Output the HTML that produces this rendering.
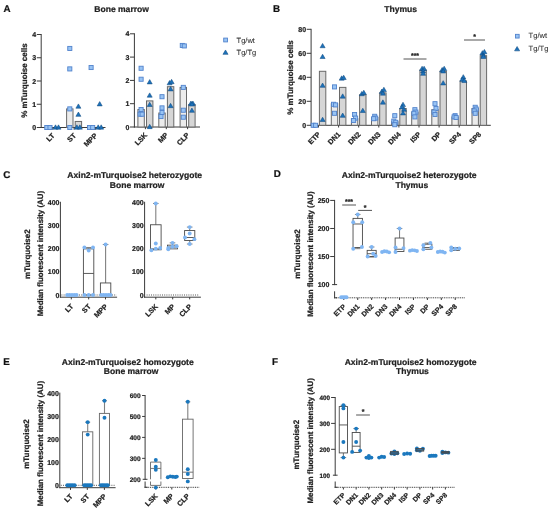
<!DOCTYPE html>
<html><head><meta charset="utf-8"><style>
html,body{margin:0;padding:0;background:#fff;width:550px;height:512px;overflow:hidden}
svg{display:block;filter:blur(0.3px)}
text{font-family:"Liberation Sans",sans-serif;text-rendering:geometricPrecision}
</style></head><body>
<svg width="550" height="512" viewBox="0 0 550 512" font-family="Liberation Sans, sans-serif">
<rect width="550" height="512" fill="#ffffff"/>
<text x="3.50" y="11.60" font-size="9.8" text-anchor="start" font-weight="bold" fill="#111" stroke="#111" stroke-width="0.22">A</text>
<text x="121.60" y="12.00" font-size="8.55" text-anchor="middle" font-weight="bold" fill="#222" stroke="#222" stroke-width="0.22">Bone marrow</text>
<text x="26.60" y="80.60" font-size="8.0" text-anchor="middle" font-weight="bold" fill="#222" transform="rotate(-90 26.60 80.60)" stroke="#222" stroke-width="0.22">% mTurquoise cells</text>
<line x1="41.20" y1="34.00" x2="41.20" y2="128.00" stroke="#3a3a3a" stroke-width="1"/>
<line x1="36.80" y1="127.50" x2="41.20" y2="127.50" stroke="#3a3a3a" stroke-width="1"/>
<text x="36.20" y="130.00" font-size="7.0" text-anchor="end" font-weight="bold" fill="#222" stroke="#222" stroke-width="0.22">0</text>
<line x1="36.80" y1="104.25" x2="41.20" y2="104.25" stroke="#3a3a3a" stroke-width="1"/>
<text x="36.20" y="106.75" font-size="7.0" text-anchor="end" font-weight="bold" fill="#222" stroke="#222" stroke-width="0.22">1</text>
<line x1="36.80" y1="81.00" x2="41.20" y2="81.00" stroke="#3a3a3a" stroke-width="1"/>
<text x="36.20" y="83.50" font-size="7.0" text-anchor="end" font-weight="bold" fill="#222" stroke="#222" stroke-width="0.22">2</text>
<line x1="36.80" y1="57.75" x2="41.20" y2="57.75" stroke="#3a3a3a" stroke-width="1"/>
<text x="36.20" y="60.25" font-size="7.0" text-anchor="end" font-weight="bold" fill="#222" stroke="#222" stroke-width="0.22">3</text>
<line x1="36.80" y1="34.50" x2="41.20" y2="34.50" stroke="#3a3a3a" stroke-width="1"/>
<text x="36.20" y="37.00" font-size="7.0" text-anchor="end" font-weight="bold" fill="#222" stroke="#222" stroke-width="0.22">4</text>
<line x1="40.70" y1="127.50" x2="105.50" y2="127.50" stroke="#3a3a3a" stroke-width="1"/>
<line x1="52.70" y1="127.50" x2="52.70" y2="129.70" stroke="#3a3a3a" stroke-width="1"/>
<line x1="74.10" y1="127.50" x2="74.10" y2="129.70" stroke="#3a3a3a" stroke-width="1"/>
<line x1="95.40" y1="127.50" x2="95.40" y2="129.70" stroke="#3a3a3a" stroke-width="1"/>
<rect x="44.75" y="125.45" width="4.10" height="4.10" fill="#98c4f4" stroke="#5283cc" stroke-width="0.9"/>
<rect x="47.95" y="125.45" width="4.10" height="4.10" fill="#98c4f4" stroke="#5283cc" stroke-width="0.9"/>
<path d="M55.50 124.83 L58.00 129.13 L53.00 129.13Z" fill="#1c72bb" stroke="#134b80" stroke-width="0.55"/>
<path d="M58.50 124.83 L61.00 129.13 L56.00 129.13Z" fill="#1c72bb" stroke="#134b80" stroke-width="0.55"/>
<rect x="66.60" y="108.90" width="6.40" height="18.60" fill="#ececec" stroke="#696969" stroke-width="1.0"/>
<rect x="75.20" y="121.45" width="6.40" height="6.04" fill="#d6d6d6" stroke="#696969" stroke-width="1.0"/>
<rect x="67.75" y="46.40" width="4.10" height="4.10" fill="#98c4f4" stroke="#5283cc" stroke-width="0.9"/>
<rect x="67.75" y="66.86" width="4.10" height="4.10" fill="#98c4f4" stroke="#5283cc" stroke-width="0.9"/>
<rect x="67.75" y="106.85" width="4.10" height="4.10" fill="#98c4f4" stroke="#5283cc" stroke-width="0.9"/>
<rect x="67.75" y="125.45" width="4.10" height="4.10" fill="#98c4f4" stroke="#5283cc" stroke-width="0.9"/>
<path d="M78.40 103.91 L80.90 108.21 L75.90 108.21Z" fill="#1c72bb" stroke="#134b80" stroke-width="0.55"/>
<path d="M78.40 112.05 L80.90 116.35 L75.90 116.35Z" fill="#1c72bb" stroke="#134b80" stroke-width="0.55"/>
<path d="M76.90 124.83 L79.40 129.13 L74.40 129.13Z" fill="#1c72bb" stroke="#134b80" stroke-width="0.55"/>
<path d="M79.90 124.83 L82.40 129.13 L77.40 129.13Z" fill="#1c72bb" stroke="#134b80" stroke-width="0.55"/>
<rect x="89.05" y="65.47" width="4.10" height="4.10" fill="#98c4f4" stroke="#5283cc" stroke-width="0.9"/>
<rect x="87.45" y="125.45" width="4.10" height="4.10" fill="#98c4f4" stroke="#5283cc" stroke-width="0.9"/>
<rect x="90.65" y="125.45" width="4.10" height="4.10" fill="#98c4f4" stroke="#5283cc" stroke-width="0.9"/>
<path d="M99.70 101.58 L102.20 105.88 L97.20 105.88Z" fill="#1c72bb" stroke="#134b80" stroke-width="0.55"/>
<path d="M98.20 124.83 L100.70 129.13 L95.70 129.13Z" fill="#1c72bb" stroke="#134b80" stroke-width="0.55"/>
<path d="M101.20 124.83 L103.70 129.13 L98.70 129.13Z" fill="#1c72bb" stroke="#134b80" stroke-width="0.55"/>
<text x="55.10" y="136.10" font-size="7.2" text-anchor="end" font-weight="bold" fill="#222" transform="rotate(-45 55.10 136.10)" stroke="#222" stroke-width="0.22">LT</text>
<text x="76.50" y="136.10" font-size="7.2" text-anchor="end" font-weight="bold" fill="#222" transform="rotate(-45 76.50 136.10)" stroke="#222" stroke-width="0.22">ST</text>
<text x="97.80" y="136.10" font-size="7.2" text-anchor="end" font-weight="bold" fill="#222" transform="rotate(-45 97.80 136.10)" stroke="#222" stroke-width="0.22">MPP</text>
<line x1="134.40" y1="33.30" x2="134.40" y2="127.50" stroke="#3a3a3a" stroke-width="1"/>
<line x1="130.00" y1="127.00" x2="134.40" y2="127.00" stroke="#3a3a3a" stroke-width="1"/>
<text x="129.40" y="129.50" font-size="7.0" text-anchor="end" font-weight="bold" fill="#222" stroke="#222" stroke-width="0.22">0</text>
<line x1="130.00" y1="103.70" x2="134.40" y2="103.70" stroke="#3a3a3a" stroke-width="1"/>
<text x="129.40" y="106.20" font-size="7.0" text-anchor="end" font-weight="bold" fill="#222" stroke="#222" stroke-width="0.22">1</text>
<line x1="130.00" y1="80.40" x2="134.40" y2="80.40" stroke="#3a3a3a" stroke-width="1"/>
<text x="129.40" y="82.90" font-size="7.0" text-anchor="end" font-weight="bold" fill="#222" stroke="#222" stroke-width="0.22">2</text>
<line x1="130.00" y1="57.10" x2="134.40" y2="57.10" stroke="#3a3a3a" stroke-width="1"/>
<text x="129.40" y="59.60" font-size="7.0" text-anchor="end" font-weight="bold" fill="#222" stroke="#222" stroke-width="0.22">3</text>
<line x1="130.00" y1="33.80" x2="134.40" y2="33.80" stroke="#3a3a3a" stroke-width="1"/>
<text x="129.40" y="36.30" font-size="7.0" text-anchor="end" font-weight="bold" fill="#222" stroke="#222" stroke-width="0.22">4</text>
<line x1="133.90" y1="127.00" x2="200.00" y2="127.00" stroke="#3a3a3a" stroke-width="1"/>
<line x1="145.40" y1="127.00" x2="145.40" y2="129.20" stroke="#3a3a3a" stroke-width="1"/>
<line x1="166.30" y1="127.00" x2="166.30" y2="129.20" stroke="#3a3a3a" stroke-width="1"/>
<line x1="187.60" y1="127.00" x2="187.60" y2="129.20" stroke="#3a3a3a" stroke-width="1"/>
<rect x="137.90" y="109.53" width="6.40" height="17.48" fill="#ececec" stroke="#696969" stroke-width="1.0"/>
<rect x="146.50" y="100.90" width="6.40" height="26.10" fill="#d6d6d6" stroke="#696969" stroke-width="1.0"/>
<rect x="139.05" y="66.23" width="4.10" height="4.10" fill="#98c4f4" stroke="#5283cc" stroke-width="0.9"/>
<rect x="139.05" y="77.19" width="4.10" height="4.10" fill="#98c4f4" stroke="#5283cc" stroke-width="0.9"/>
<rect x="139.05" y="107.48" width="4.10" height="4.10" fill="#98c4f4" stroke="#5283cc" stroke-width="0.9"/>
<rect x="138.05" y="112.14" width="4.10" height="4.10" fill="#98c4f4" stroke="#5283cc" stroke-width="0.9"/>
<rect x="140.05" y="112.14" width="4.10" height="4.10" fill="#98c4f4" stroke="#5283cc" stroke-width="0.9"/>
<path d="M149.70 79.60 L152.20 83.90 L147.20 83.90Z" fill="#1c72bb" stroke="#134b80" stroke-width="0.55"/>
<path d="M149.70 92.88 L152.20 97.18 L147.20 97.18Z" fill="#1c72bb" stroke="#134b80" stroke-width="0.55"/>
<path d="M149.70 102.20 L152.20 106.50 L147.20 106.50Z" fill="#1c72bb" stroke="#134b80" stroke-width="0.55"/>
<path d="M149.70 124.33 L152.20 128.63 L147.20 128.63Z" fill="#1c72bb" stroke="#134b80" stroke-width="0.55"/>
<rect x="158.80" y="113.02" width="6.40" height="13.98" fill="#ececec" stroke="#696969" stroke-width="1.0"/>
<rect x="167.40" y="86.69" width="6.40" height="40.31" fill="#d6d6d6" stroke="#696969" stroke-width="1.0"/>
<rect x="159.95" y="94.66" width="4.10" height="4.10" fill="#98c4f4" stroke="#5283cc" stroke-width="0.9"/>
<rect x="159.95" y="105.84" width="4.10" height="4.10" fill="#98c4f4" stroke="#5283cc" stroke-width="0.9"/>
<rect x="159.95" y="110.50" width="4.10" height="4.10" fill="#98c4f4" stroke="#5283cc" stroke-width="0.9"/>
<rect x="158.95" y="114.47" width="4.10" height="4.10" fill="#98c4f4" stroke="#5283cc" stroke-width="0.9"/>
<path d="M169.60 80.53 L172.10 84.83 L167.10 84.83Z" fill="#1c72bb" stroke="#134b80" stroke-width="0.55"/>
<path d="M171.60 79.37 L174.10 83.67 L169.10 83.67Z" fill="#1c72bb" stroke="#134b80" stroke-width="0.55"/>
<path d="M170.60 86.59 L173.10 90.89 L168.10 90.89Z" fill="#1c72bb" stroke="#134b80" stroke-width="0.55"/>
<path d="M170.60 103.36 L173.10 107.66 L168.10 107.66Z" fill="#1c72bb" stroke="#134b80" stroke-width="0.55"/>
<rect x="180.10" y="87.39" width="6.40" height="39.61" fill="#ececec" stroke="#696969" stroke-width="1.0"/>
<rect x="188.70" y="104.63" width="6.40" height="22.37" fill="#d6d6d6" stroke="#696969" stroke-width="1.0"/>
<rect x="180.25" y="43.40" width="4.10" height="4.10" fill="#98c4f4" stroke="#5283cc" stroke-width="0.9"/>
<rect x="182.25" y="43.87" width="4.10" height="4.10" fill="#98c4f4" stroke="#5283cc" stroke-width="0.9"/>
<rect x="181.25" y="85.34" width="4.10" height="4.10" fill="#98c4f4" stroke="#5283cc" stroke-width="0.9"/>
<rect x="181.25" y="108.17" width="4.10" height="4.10" fill="#98c4f4" stroke="#5283cc" stroke-width="0.9"/>
<rect x="181.25" y="115.16" width="4.10" height="4.10" fill="#98c4f4" stroke="#5283cc" stroke-width="0.9"/>
<path d="M190.90 101.03 L193.40 105.33 L188.40 105.33Z" fill="#1c72bb" stroke="#134b80" stroke-width="0.55"/>
<path d="M192.90 101.03 L195.40 105.33 L190.40 105.33Z" fill="#1c72bb" stroke="#134b80" stroke-width="0.55"/>
<path d="M191.90 101.73 L194.40 106.03 L189.40 106.03Z" fill="#1c72bb" stroke="#134b80" stroke-width="0.55"/>
<path d="M191.90 108.02 L194.40 112.32 L189.40 112.32Z" fill="#1c72bb" stroke="#134b80" stroke-width="0.55"/>
<text x="147.80" y="135.60" font-size="7.2" text-anchor="end" font-weight="bold" fill="#222" transform="rotate(-45 147.80 135.60)" stroke="#222" stroke-width="0.22">LSK</text>
<text x="168.70" y="135.60" font-size="7.2" text-anchor="end" font-weight="bold" fill="#222" transform="rotate(-45 168.70 135.60)" stroke="#222" stroke-width="0.22">MP</text>
<text x="190.00" y="135.60" font-size="7.2" text-anchor="end" font-weight="bold" fill="#222" transform="rotate(-45 190.00 135.60)" stroke="#222" stroke-width="0.22">CLP</text>
<rect x="223.70" y="38.10" width="3.80" height="3.80" fill="#98c4f4" stroke="#5283cc" stroke-width="0.9"/>
<path d="M225.50 49.98 L228.05 54.37 L222.95 54.37Z" fill="#1c72bb" stroke="#134b80" stroke-width="0.55"/>
<text x="236.60" y="42.60" font-size="7.5" text-anchor="start" font-weight="normal" fill="#333" stroke="#333" stroke-width="0.08">Tg/wt</text>
<text x="236.60" y="55.00" font-size="7.5" text-anchor="start" font-weight="normal" fill="#333" stroke="#333" stroke-width="0.08">Tg/Tg</text>
<text x="272.90" y="11.60" font-size="9.8" text-anchor="start" font-weight="bold" fill="#111" stroke="#111" stroke-width="0.22">B</text>
<text x="400.70" y="12.00" font-size="8.55" text-anchor="middle" font-weight="bold" fill="#222" stroke="#222" stroke-width="0.22">Thymus</text>
<text x="292.70" y="77.50" font-size="8.0" text-anchor="middle" font-weight="bold" fill="#222" transform="rotate(-90 292.70 77.50)" stroke="#222" stroke-width="0.22">% mTurquoise cells</text>
<line x1="311.10" y1="28.80" x2="311.10" y2="125.80" stroke="#3a3a3a" stroke-width="1"/>
<line x1="306.70" y1="125.30" x2="311.10" y2="125.30" stroke="#3a3a3a" stroke-width="1"/>
<text x="306.10" y="127.80" font-size="7.0" text-anchor="end" font-weight="bold" fill="#222" stroke="#222" stroke-width="0.22">0</text>
<line x1="306.70" y1="101.30" x2="311.10" y2="101.30" stroke="#3a3a3a" stroke-width="1"/>
<text x="306.10" y="103.80" font-size="7.0" text-anchor="end" font-weight="bold" fill="#222" stroke="#222" stroke-width="0.22">20</text>
<line x1="306.70" y1="77.30" x2="311.10" y2="77.30" stroke="#3a3a3a" stroke-width="1"/>
<text x="306.10" y="79.80" font-size="7.0" text-anchor="end" font-weight="bold" fill="#222" stroke="#222" stroke-width="0.22">40</text>
<line x1="306.70" y1="53.30" x2="311.10" y2="53.30" stroke="#3a3a3a" stroke-width="1"/>
<text x="306.10" y="55.80" font-size="7.0" text-anchor="end" font-weight="bold" fill="#222" stroke="#222" stroke-width="0.22">60</text>
<line x1="306.70" y1="29.30" x2="311.10" y2="29.30" stroke="#3a3a3a" stroke-width="1"/>
<text x="306.10" y="31.80" font-size="7.0" text-anchor="end" font-weight="bold" fill="#222" stroke="#222" stroke-width="0.22">80</text>
<line x1="310.60" y1="125.30" x2="490.80" y2="125.30" stroke="#3a3a3a" stroke-width="1"/>
<line x1="318.50" y1="125.30" x2="318.50" y2="127.50" stroke="#3a3a3a" stroke-width="1"/>
<line x1="338.60" y1="125.30" x2="338.60" y2="127.50" stroke="#3a3a3a" stroke-width="1"/>
<line x1="358.70" y1="125.30" x2="358.70" y2="127.50" stroke="#3a3a3a" stroke-width="1"/>
<line x1="378.80" y1="125.30" x2="378.80" y2="127.50" stroke="#3a3a3a" stroke-width="1"/>
<line x1="398.90" y1="125.30" x2="398.90" y2="127.50" stroke="#3a3a3a" stroke-width="1"/>
<line x1="419.00" y1="125.30" x2="419.00" y2="127.50" stroke="#3a3a3a" stroke-width="1"/>
<line x1="439.10" y1="125.30" x2="439.10" y2="127.50" stroke="#3a3a3a" stroke-width="1"/>
<line x1="459.20" y1="125.30" x2="459.20" y2="127.50" stroke="#3a3a3a" stroke-width="1"/>
<line x1="479.30" y1="125.30" x2="479.30" y2="127.50" stroke="#3a3a3a" stroke-width="1"/>
<rect x="319.40" y="71.30" width="6.40" height="54.00" fill="#d6d6d6" stroke="#696969" stroke-width="1.0"/>
<rect x="311.15" y="123.25" width="4.10" height="4.10" fill="#98c4f4" stroke="#5283cc" stroke-width="0.9"/>
<rect x="313.55" y="123.25" width="4.10" height="4.10" fill="#98c4f4" stroke="#5283cc" stroke-width="0.9"/>
<path d="M322.60 43.43 L325.10 47.73 L320.10 47.73Z" fill="#1c72bb" stroke="#134b80" stroke-width="0.55"/>
<path d="M322.60 54.23 L325.10 58.53 L320.10 58.53Z" fill="#1c72bb" stroke="#134b80" stroke-width="0.55"/>
<path d="M322.60 83.03 L325.10 87.33 L320.10 87.33Z" fill="#1c72bb" stroke="#134b80" stroke-width="0.55"/>
<path d="M322.60 117.23 L325.10 121.53 L320.10 121.53Z" fill="#1c72bb" stroke="#134b80" stroke-width="0.55"/>
<rect x="331.30" y="103.70" width="6.40" height="21.60" fill="#ececec" stroke="#696969" stroke-width="1.0"/>
<rect x="339.50" y="87.38" width="6.40" height="37.92" fill="#d6d6d6" stroke="#696969" stroke-width="1.0"/>
<rect x="332.45" y="84.85" width="4.10" height="4.10" fill="#98c4f4" stroke="#5283cc" stroke-width="0.9"/>
<rect x="331.45" y="102.25" width="4.10" height="4.10" fill="#98c4f4" stroke="#5283cc" stroke-width="0.9"/>
<rect x="333.45" y="102.85" width="4.10" height="4.10" fill="#98c4f4" stroke="#5283cc" stroke-width="0.9"/>
<rect x="332.45" y="111.25" width="4.10" height="4.10" fill="#98c4f4" stroke="#5283cc" stroke-width="0.9"/>
<path d="M341.70 75.83 L344.20 80.13 L339.20 80.13Z" fill="#1c72bb" stroke="#134b80" stroke-width="0.55"/>
<path d="M343.70 75.23 L346.20 79.53 L341.20 79.53Z" fill="#1c72bb" stroke="#134b80" stroke-width="0.55"/>
<path d="M342.70 93.83 L345.20 98.13 L340.20 98.13Z" fill="#1c72bb" stroke="#134b80" stroke-width="0.55"/>
<path d="M342.70 113.03 L345.20 117.33 L340.20 117.33Z" fill="#1c72bb" stroke="#134b80" stroke-width="0.55"/>
<rect x="351.40" y="118.70" width="6.40" height="6.60" fill="#ececec" stroke="#696969" stroke-width="1.0"/>
<rect x="359.60" y="94.70" width="6.40" height="30.60" fill="#d6d6d6" stroke="#696969" stroke-width="1.0"/>
<rect x="352.55" y="112.45" width="4.10" height="4.10" fill="#98c4f4" stroke="#5283cc" stroke-width="0.9"/>
<rect x="353.55" y="116.05" width="4.10" height="4.10" fill="#98c4f4" stroke="#5283cc" stroke-width="0.9"/>
<rect x="351.55" y="118.45" width="4.10" height="4.10" fill="#98c4f4" stroke="#5283cc" stroke-width="0.9"/>
<path d="M361.80 91.43 L364.30 95.73 L359.30 95.73Z" fill="#1c72bb" stroke="#134b80" stroke-width="0.55"/>
<path d="M363.80 90.23 L366.30 94.53 L361.30 94.53Z" fill="#1c72bb" stroke="#134b80" stroke-width="0.55"/>
<path d="M362.80 108.23 L365.30 112.53 L360.30 112.53Z" fill="#1c72bb" stroke="#134b80" stroke-width="0.55"/>
<rect x="371.50" y="117.50" width="6.40" height="7.80" fill="#ececec" stroke="#696969" stroke-width="1.0"/>
<rect x="379.70" y="92.90" width="6.40" height="32.40" fill="#d6d6d6" stroke="#696969" stroke-width="1.0"/>
<rect x="372.65" y="114.25" width="4.10" height="4.10" fill="#98c4f4" stroke="#5283cc" stroke-width="0.9"/>
<rect x="373.65" y="116.05" width="4.10" height="4.10" fill="#98c4f4" stroke="#5283cc" stroke-width="0.9"/>
<rect x="371.65" y="116.65" width="4.10" height="4.10" fill="#98c4f4" stroke="#5283cc" stroke-width="0.9"/>
<path d="M381.90 89.03 L384.40 93.33 L379.40 93.33Z" fill="#1c72bb" stroke="#134b80" stroke-width="0.55"/>
<path d="M383.90 87.23 L386.40 91.53 L381.40 91.53Z" fill="#1c72bb" stroke="#134b80" stroke-width="0.55"/>
<path d="M382.90 90.83 L385.40 95.13 L380.40 95.13Z" fill="#1c72bb" stroke="#134b80" stroke-width="0.55"/>
<path d="M382.90 99.83 L385.40 104.13 L380.40 104.13Z" fill="#1c72bb" stroke="#134b80" stroke-width="0.55"/>
<rect x="391.60" y="121.70" width="6.40" height="3.60" fill="#ececec" stroke="#696969" stroke-width="1.0"/>
<rect x="399.80" y="108.50" width="6.40" height="16.80" fill="#d6d6d6" stroke="#696969" stroke-width="1.0"/>
<rect x="392.75" y="113.65" width="4.10" height="4.10" fill="#98c4f4" stroke="#5283cc" stroke-width="0.9"/>
<rect x="391.75" y="119.05" width="4.10" height="4.10" fill="#98c4f4" stroke="#5283cc" stroke-width="0.9"/>
<rect x="393.75" y="120.25" width="4.10" height="4.10" fill="#98c4f4" stroke="#5283cc" stroke-width="0.9"/>
<rect x="392.75" y="122.65" width="4.10" height="4.10" fill="#98c4f4" stroke="#5283cc" stroke-width="0.9"/>
<path d="M403.00 102.23 L405.50 106.53 L400.50 106.53Z" fill="#1c72bb" stroke="#134b80" stroke-width="0.55"/>
<path d="M402.00 104.63 L404.50 108.93 L399.50 108.93Z" fill="#1c72bb" stroke="#134b80" stroke-width="0.55"/>
<path d="M404.00 107.03 L406.50 111.33 L401.50 111.33Z" fill="#1c72bb" stroke="#134b80" stroke-width="0.55"/>
<path d="M403.00 110.63 L405.50 114.93 L400.50 114.93Z" fill="#1c72bb" stroke="#134b80" stroke-width="0.55"/>
<rect x="411.70" y="112.10" width="6.40" height="13.20" fill="#ececec" stroke="#696969" stroke-width="1.0"/>
<rect x="419.90" y="70.10" width="6.40" height="55.20" fill="#d6d6d6" stroke="#696969" stroke-width="1.0"/>
<rect x="412.85" y="107.65" width="4.10" height="4.10" fill="#98c4f4" stroke="#5283cc" stroke-width="0.9"/>
<rect x="413.85" y="110.05" width="4.10" height="4.10" fill="#98c4f4" stroke="#5283cc" stroke-width="0.9"/>
<rect x="411.85" y="111.25" width="4.10" height="4.10" fill="#98c4f4" stroke="#5283cc" stroke-width="0.9"/>
<rect x="412.85" y="114.85" width="4.10" height="4.10" fill="#98c4f4" stroke="#5283cc" stroke-width="0.9"/>
<path d="M422.10 66.23 L424.60 70.53 L419.60 70.53Z" fill="#1c72bb" stroke="#134b80" stroke-width="0.55"/>
<path d="M424.10 66.23 L426.60 70.53 L421.60 70.53Z" fill="#1c72bb" stroke="#134b80" stroke-width="0.55"/>
<path d="M423.10 68.63 L425.60 72.93 L420.60 72.93Z" fill="#1c72bb" stroke="#134b80" stroke-width="0.55"/>
<path d="M423.10 71.03 L425.60 75.33 L420.60 75.33Z" fill="#1c72bb" stroke="#134b80" stroke-width="0.55"/>
<rect x="431.80" y="109.70" width="6.40" height="15.60" fill="#ececec" stroke="#696969" stroke-width="1.0"/>
<rect x="440.00" y="71.30" width="6.40" height="54.00" fill="#d6d6d6" stroke="#696969" stroke-width="1.0"/>
<rect x="432.95" y="101.65" width="4.10" height="4.10" fill="#98c4f4" stroke="#5283cc" stroke-width="0.9"/>
<rect x="433.95" y="106.45" width="4.10" height="4.10" fill="#98c4f4" stroke="#5283cc" stroke-width="0.9"/>
<rect x="431.95" y="110.05" width="4.10" height="4.10" fill="#98c4f4" stroke="#5283cc" stroke-width="0.9"/>
<rect x="432.95" y="112.45" width="4.10" height="4.10" fill="#98c4f4" stroke="#5283cc" stroke-width="0.9"/>
<path d="M442.20 67.43 L444.70 71.73 L439.70 71.73Z" fill="#1c72bb" stroke="#134b80" stroke-width="0.55"/>
<path d="M444.20 66.23 L446.70 70.53 L441.70 70.53Z" fill="#1c72bb" stroke="#134b80" stroke-width="0.55"/>
<path d="M443.20 68.63 L445.70 72.93 L440.70 72.93Z" fill="#1c72bb" stroke="#134b80" stroke-width="0.55"/>
<path d="M443.20 80.63 L445.70 84.93 L440.70 84.93Z" fill="#1c72bb" stroke="#134b80" stroke-width="0.55"/>
<rect x="451.90" y="116.90" width="6.40" height="8.40" fill="#ececec" stroke="#696969" stroke-width="1.0"/>
<rect x="460.10" y="80.90" width="6.40" height="44.40" fill="#d6d6d6" stroke="#696969" stroke-width="1.0"/>
<rect x="453.05" y="113.65" width="4.10" height="4.10" fill="#98c4f4" stroke="#5283cc" stroke-width="0.9"/>
<rect x="452.05" y="114.85" width="4.10" height="4.10" fill="#98c4f4" stroke="#5283cc" stroke-width="0.9"/>
<rect x="454.05" y="115.45" width="4.10" height="4.10" fill="#98c4f4" stroke="#5283cc" stroke-width="0.9"/>
<path d="M463.30 74.63 L465.80 78.93 L460.80 78.93Z" fill="#1c72bb" stroke="#134b80" stroke-width="0.55"/>
<path d="M462.30 77.03 L464.80 81.33 L459.80 81.33Z" fill="#1c72bb" stroke="#134b80" stroke-width="0.55"/>
<path d="M464.30 78.23 L466.80 82.53 L461.80 82.53Z" fill="#1c72bb" stroke="#134b80" stroke-width="0.55"/>
<rect x="472.00" y="108.50" width="6.40" height="16.80" fill="#ececec" stroke="#696969" stroke-width="1.0"/>
<rect x="480.20" y="55.70" width="6.40" height="69.60" fill="#d6d6d6" stroke="#696969" stroke-width="1.0"/>
<rect x="473.15" y="105.25" width="4.10" height="4.10" fill="#98c4f4" stroke="#5283cc" stroke-width="0.9"/>
<rect x="474.15" y="107.05" width="4.10" height="4.10" fill="#98c4f4" stroke="#5283cc" stroke-width="0.9"/>
<rect x="472.15" y="108.85" width="4.10" height="4.10" fill="#98c4f4" stroke="#5283cc" stroke-width="0.9"/>
<rect x="473.15" y="111.25" width="4.10" height="4.10" fill="#98c4f4" stroke="#5283cc" stroke-width="0.9"/>
<path d="M482.40 50.63 L484.90 54.93 L479.90 54.93Z" fill="#1c72bb" stroke="#134b80" stroke-width="0.55"/>
<path d="M484.40 49.43 L486.90 53.73 L481.90 53.73Z" fill="#1c72bb" stroke="#134b80" stroke-width="0.55"/>
<path d="M483.40 53.03 L485.90 57.33 L480.90 57.33Z" fill="#1c72bb" stroke="#134b80" stroke-width="0.55"/>
<path d="M483.40 54.23 L485.90 58.53 L480.90 58.53Z" fill="#1c72bb" stroke="#134b80" stroke-width="0.55"/>
<text x="320.90" y="134.80" font-size="7.2" text-anchor="end" font-weight="bold" fill="#222" transform="rotate(-45 320.90 134.80)" stroke="#222" stroke-width="0.22">ETP</text>
<text x="341.00" y="134.80" font-size="7.2" text-anchor="end" font-weight="bold" fill="#222" transform="rotate(-45 341.00 134.80)" stroke="#222" stroke-width="0.22">DN1</text>
<text x="361.10" y="134.80" font-size="7.2" text-anchor="end" font-weight="bold" fill="#222" transform="rotate(-45 361.10 134.80)" stroke="#222" stroke-width="0.22">DN2</text>
<text x="381.20" y="134.80" font-size="7.2" text-anchor="end" font-weight="bold" fill="#222" transform="rotate(-45 381.20 134.80)" stroke="#222" stroke-width="0.22">DN3</text>
<text x="401.30" y="134.80" font-size="7.2" text-anchor="end" font-weight="bold" fill="#222" transform="rotate(-45 401.30 134.80)" stroke="#222" stroke-width="0.22">DN4</text>
<text x="421.40" y="134.80" font-size="7.2" text-anchor="end" font-weight="bold" fill="#222" transform="rotate(-45 421.40 134.80)" stroke="#222" stroke-width="0.22">ISP</text>
<text x="441.50" y="134.80" font-size="7.2" text-anchor="end" font-weight="bold" fill="#222" transform="rotate(-45 441.50 134.80)" stroke="#222" stroke-width="0.22">DP</text>
<text x="461.60" y="134.80" font-size="7.2" text-anchor="end" font-weight="bold" fill="#222" transform="rotate(-45 461.60 134.80)" stroke="#222" stroke-width="0.22">SP4</text>
<text x="481.70" y="134.80" font-size="7.2" text-anchor="end" font-weight="bold" fill="#222" transform="rotate(-45 481.70 134.80)" stroke="#222" stroke-width="0.22">SP8</text>
<line x1="403.50" y1="59.00" x2="426.50" y2="59.00" stroke="#555" stroke-width="1"/>
<text x="415.00" y="57.60" font-size="7" text-anchor="middle" font-weight="bold" fill="#222" stroke="#222" stroke-width="0.22">***</text>
<line x1="464.00" y1="40.00" x2="485.00" y2="40.00" stroke="#555" stroke-width="1"/>
<text x="474.50" y="38.60" font-size="7" text-anchor="middle" font-weight="bold" fill="#222" stroke="#222" stroke-width="0.22">*</text>
<rect x="515.45" y="34.35" width="3.70" height="3.70" fill="#98c4f4" stroke="#5283cc" stroke-width="0.9"/>
<path d="M517.10 46.48 L519.65 50.87 L514.55 50.87Z" fill="#1c72bb" stroke="#134b80" stroke-width="0.55"/>
<text x="528.60" y="38.20" font-size="7.6" text-anchor="start" font-weight="normal" fill="#333" stroke="#333" stroke-width="0.08">Tg/wt</text>
<text x="528.60" y="51.40" font-size="7.6" text-anchor="start" font-weight="normal" fill="#333" stroke="#333" stroke-width="0.08">Tg/Tg</text>
<text x="3.20" y="177.50" font-size="9.8" text-anchor="start" font-weight="bold" fill="#111" stroke="#111" stroke-width="0.22">C</text>
<text x="134.70" y="178.10" font-size="8.55" text-anchor="middle" font-weight="bold" fill="#222" stroke="#222" stroke-width="0.22">Axin2-mTurquoise2 heterozygote</text>
<text x="137.10" y="187.50" font-size="8.55" text-anchor="middle" font-weight="bold" fill="#222" stroke="#222" stroke-width="0.22">Bone marrow</text>
<text x="29.60" y="254.10" font-size="8.0" text-anchor="middle" font-weight="bold" fill="#222" transform="rotate(-90 29.60 254.10)" stroke="#222" stroke-width="0.22">mTurquoise2</text>
<text x="43.10" y="253.60" font-size="7.9" text-anchor="middle" font-weight="bold" fill="#222" transform="rotate(-90 43.10 253.60)" stroke="#222" stroke-width="0.22">Median fluorescent intensity (AU)</text>
<line x1="60.40" y1="201.78" x2="60.40" y2="297.70" stroke="#3a3a3a" stroke-width="1"/>
<text x="59.50" y="297.50" font-size="7.0" text-anchor="end" font-weight="bold" fill="#222" stroke="#222" stroke-width="0.22">0</text>
<text x="59.50" y="274.32" font-size="7.0" text-anchor="end" font-weight="bold" fill="#222" stroke="#222" stroke-width="0.22">100</text>
<text x="59.50" y="251.14" font-size="7.0" text-anchor="end" font-weight="bold" fill="#222" stroke="#222" stroke-width="0.22">200</text>
<text x="59.50" y="227.96" font-size="7.0" text-anchor="end" font-weight="bold" fill="#222" stroke="#222" stroke-width="0.22">300</text>
<text x="59.50" y="204.78" font-size="7.0" text-anchor="end" font-weight="bold" fill="#222" stroke="#222" stroke-width="0.22">400</text>
<line x1="61.40" y1="295.00" x2="116.50" y2="295.00" stroke="#444" stroke-width="0.9" stroke-dasharray="1 1.2"/>
<line x1="59.90" y1="297.20" x2="117.10" y2="297.20" stroke="#3a3a3a" stroke-width="1"/>
<line x1="71.30" y1="297.20" x2="71.30" y2="299.40" stroke="#3a3a3a" stroke-width="1"/>
<line x1="88.70" y1="297.20" x2="88.70" y2="299.40" stroke="#3a3a3a" stroke-width="1"/>
<line x1="105.50" y1="297.20" x2="105.50" y2="299.40" stroke="#3a3a3a" stroke-width="1"/>
<line x1="88.60" y1="247.48" x2="88.60" y2="248.87" stroke="#808080" stroke-width="1.1"/>
<line x1="85.80" y1="247.48" x2="91.40" y2="247.48" stroke="#808080" stroke-width="1"/>
<rect x="83.40" y="248.87" width="10.40" height="46.13" fill="none" stroke="#4a4a4a" stroke-width="0.9"/>
<line x1="83.40" y1="273.44" x2="93.80" y2="273.44" stroke="#4a4a4a" stroke-width="0.9"/>
<line x1="105.60" y1="244.47" x2="105.60" y2="282.95" stroke="#808080" stroke-width="1.1"/>
<line x1="102.80" y1="244.47" x2="108.40" y2="244.47" stroke="#808080" stroke-width="1"/>
<rect x="100.40" y="282.95" width="10.40" height="12.05" fill="none" stroke="#4a4a4a" stroke-width="0.9"/>
<line x1="100.40" y1="295.00" x2="110.80" y2="295.00" stroke="#4a4a4a" stroke-width="0.9"/>
<circle cx="67.20" cy="295.00" r="1.95" fill="#7fb5f2"/>
<circle cx="69.60" cy="295.00" r="1.95" fill="#7fb5f2"/>
<circle cx="72.00" cy="295.00" r="1.95" fill="#7fb5f2"/>
<circle cx="74.40" cy="295.00" r="1.95" fill="#7fb5f2"/>
<circle cx="76.60" cy="295.00" r="1.95" fill="#7fb5f2"/>
<circle cx="84.40" cy="295.00" r="1.95" fill="#7fb5f2"/>
<circle cx="88.70" cy="295.00" r="1.95" fill="#7fb5f2"/>
<circle cx="93.00" cy="295.00" r="1.95" fill="#7fb5f2"/>
<circle cx="84.40" cy="247.48" r="1.95" fill="#7fb5f2"/>
<circle cx="93.00" cy="247.48" r="1.95" fill="#7fb5f2"/>
<circle cx="88.70" cy="250.49" r="1.95" fill="#7fb5f2"/>
<circle cx="101.20" cy="295.00" r="1.95" fill="#7fb5f2"/>
<circle cx="103.60" cy="295.00" r="1.95" fill="#7fb5f2"/>
<circle cx="106.00" cy="295.00" r="1.95" fill="#7fb5f2"/>
<circle cx="108.40" cy="295.00" r="1.95" fill="#7fb5f2"/>
<circle cx="110.60" cy="295.00" r="1.95" fill="#7fb5f2"/>
<circle cx="105.60" cy="244.47" r="1.95" fill="#7fb5f2"/>
<text x="73.90" y="307.00" font-size="7.2" text-anchor="end" font-weight="bold" fill="#222" transform="rotate(-45 73.90 307.00)" stroke="#222" stroke-width="0.22">LT</text>
<text x="91.30" y="307.00" font-size="7.2" text-anchor="end" font-weight="bold" fill="#222" transform="rotate(-45 91.30 307.00)" stroke="#222" stroke-width="0.22">ST</text>
<text x="108.10" y="307.00" font-size="7.2" text-anchor="end" font-weight="bold" fill="#222" transform="rotate(-45 108.10 307.00)" stroke="#222" stroke-width="0.22">MPP</text>
<line x1="144.60" y1="201.78" x2="144.60" y2="297.70" stroke="#3a3a3a" stroke-width="1"/>
<text x="143.70" y="297.50" font-size="7.0" text-anchor="end" font-weight="bold" fill="#222" stroke="#222" stroke-width="0.22">0</text>
<text x="143.70" y="274.32" font-size="7.0" text-anchor="end" font-weight="bold" fill="#222" stroke="#222" stroke-width="0.22">100</text>
<text x="143.70" y="251.14" font-size="7.0" text-anchor="end" font-weight="bold" fill="#222" stroke="#222" stroke-width="0.22">200</text>
<text x="143.70" y="227.96" font-size="7.0" text-anchor="end" font-weight="bold" fill="#222" stroke="#222" stroke-width="0.22">300</text>
<text x="143.70" y="204.78" font-size="7.0" text-anchor="end" font-weight="bold" fill="#222" stroke="#222" stroke-width="0.22">400</text>
<line x1="146.60" y1="295.00" x2="199.20" y2="295.00" stroke="#444" stroke-width="0.9" stroke-dasharray="1 1.2"/>
<line x1="144.10" y1="297.20" x2="200.90" y2="297.20" stroke="#3a3a3a" stroke-width="1"/>
<line x1="155.80" y1="297.20" x2="155.80" y2="299.40" stroke="#3a3a3a" stroke-width="1"/>
<line x1="172.70" y1="297.20" x2="172.70" y2="299.40" stroke="#3a3a3a" stroke-width="1"/>
<line x1="189.70" y1="297.20" x2="189.70" y2="299.40" stroke="#3a3a3a" stroke-width="1"/>
<line x1="155.80" y1="203.44" x2="155.80" y2="224.76" stroke="#808080" stroke-width="1.1"/>
<line x1="153.00" y1="203.44" x2="158.60" y2="203.44" stroke="#808080" stroke-width="1"/>
<rect x="150.50" y="224.76" width="10.60" height="25.03" fill="none" stroke="#4a4a4a" stroke-width="0.9"/>
<line x1="150.50" y1="248.87" x2="161.10" y2="248.87" stroke="#4a4a4a" stroke-width="0.9"/>
<line x1="172.50" y1="242.84" x2="172.50" y2="245.16" stroke="#808080" stroke-width="1.1"/>
<line x1="169.70" y1="242.84" x2="175.30" y2="242.84" stroke="#808080" stroke-width="1"/>
<rect x="167.50" y="245.16" width="10.00" height="3.71" fill="none" stroke="#4a4a4a" stroke-width="0.9"/>
<line x1="167.50" y1="247.02" x2="177.50" y2="247.02" stroke="#4a4a4a" stroke-width="0.9"/>
<line x1="189.70" y1="227.08" x2="189.70" y2="230.56" stroke="#808080" stroke-width="1.1"/>
<line x1="186.90" y1="227.08" x2="192.50" y2="227.08" stroke="#808080" stroke-width="1"/>
<line x1="189.70" y1="240.53" x2="189.70" y2="244.00" stroke="#808080" stroke-width="1.1"/>
<line x1="186.90" y1="244.00" x2="192.50" y2="244.00" stroke="#808080" stroke-width="1"/>
<rect x="184.60" y="230.56" width="10.20" height="9.97" fill="none" stroke="#4a4a4a" stroke-width="0.9"/>
<line x1="184.60" y1="237.51" x2="194.80" y2="237.51" stroke="#4a4a4a" stroke-width="0.9"/>
<circle cx="155.80" cy="203.44" r="1.95" fill="#7fb5f2"/>
<circle cx="155.80" cy="243.54" r="1.95" fill="#7fb5f2"/>
<circle cx="151.40" cy="250.26" r="1.95" fill="#7fb5f2"/>
<circle cx="160.20" cy="247.94" r="1.95" fill="#7fb5f2"/>
<circle cx="155.80" cy="248.64" r="1.95" fill="#7fb5f2"/>
<circle cx="172.50" cy="242.84" r="1.95" fill="#7fb5f2"/>
<circle cx="168.30" cy="247.94" r="1.95" fill="#7fb5f2"/>
<circle cx="168.30" cy="249.34" r="1.95" fill="#7fb5f2"/>
<circle cx="176.70" cy="246.32" r="1.95" fill="#7fb5f2"/>
<circle cx="172.50" cy="246.79" r="1.95" fill="#7fb5f2"/>
<circle cx="189.70" cy="227.08" r="1.95" fill="#7fb5f2"/>
<circle cx="189.70" cy="233.57" r="1.95" fill="#7fb5f2"/>
<circle cx="185.00" cy="237.51" r="1.95" fill="#7fb5f2"/>
<circle cx="194.40" cy="239.14" r="1.95" fill="#7fb5f2"/>
<circle cx="189.70" cy="244.00" r="1.95" fill="#7fb5f2"/>
<text x="158.40" y="307.00" font-size="7.2" text-anchor="end" font-weight="bold" fill="#222" transform="rotate(-45 158.40 307.00)" stroke="#222" stroke-width="0.22">LSK</text>
<text x="175.30" y="307.00" font-size="7.2" text-anchor="end" font-weight="bold" fill="#222" transform="rotate(-45 175.30 307.00)" stroke="#222" stroke-width="0.22">MP</text>
<text x="192.30" y="307.00" font-size="7.2" text-anchor="end" font-weight="bold" fill="#222" transform="rotate(-45 192.30 307.00)" stroke="#222" stroke-width="0.22">CLP</text>
<text x="273.80" y="177.40" font-size="9.8" text-anchor="start" font-weight="bold" fill="#111" stroke="#111" stroke-width="0.22">D</text>
<text x="409.20" y="178.20" font-size="8.55" text-anchor="middle" font-weight="bold" fill="#222" stroke="#222" stroke-width="0.22">Axin2-mTurquoise2 heterozygote</text>
<text x="411.80" y="187.50" font-size="8.55" text-anchor="middle" font-weight="bold" fill="#222" stroke="#222" stroke-width="0.22">Thymus</text>
<text x="299.60" y="254.00" font-size="8.0" text-anchor="middle" font-weight="bold" fill="#222" transform="rotate(-90 299.60 254.00)" stroke="#222" stroke-width="0.22">mTurquoise2</text>
<text x="313.00" y="254.00" font-size="7.9" text-anchor="middle" font-weight="bold" fill="#222" transform="rotate(-90 313.00 254.00)" stroke="#222" stroke-width="0.22">Median fluorescent intensity (AU)</text>
<line x1="334.60" y1="199.92" x2="334.60" y2="285.10" stroke="#3a3a3a" stroke-width="1"/>
<text x="329.40" y="287.10" font-size="7.0" text-anchor="end" font-weight="bold" fill="#222" stroke="#222" stroke-width="0.22">100</text>
<line x1="330.20" y1="256.54" x2="334.60" y2="256.54" stroke="#3a3a3a" stroke-width="1"/>
<text x="329.40" y="259.04" font-size="7.0" text-anchor="end" font-weight="bold" fill="#222" stroke="#222" stroke-width="0.22">150</text>
<line x1="330.20" y1="228.48" x2="334.60" y2="228.48" stroke="#3a3a3a" stroke-width="1"/>
<text x="329.40" y="230.98" font-size="7.0" text-anchor="end" font-weight="bold" fill="#222" stroke="#222" stroke-width="0.22">200</text>
<line x1="330.20" y1="200.42" x2="334.60" y2="200.42" stroke="#3a3a3a" stroke-width="1"/>
<text x="329.40" y="202.92" font-size="7.0" text-anchor="end" font-weight="bold" fill="#222" stroke="#222" stroke-width="0.22">250</text>
<line x1="334.60" y1="291.30" x2="334.60" y2="297.80" stroke="#3a3a3a" stroke-width="1"/>
<line x1="332.10" y1="284.60" x2="337.10" y2="284.60" stroke="#3a3a3a" stroke-width="1"/>
<line x1="334.10" y1="297.80" x2="465.00" y2="297.80" stroke="#3a3a3a" stroke-width="1" stroke-dasharray="1 0.8"/>
<line x1="343.80" y1="297.80" x2="343.80" y2="300.00" stroke="#3a3a3a" stroke-width="1"/>
<line x1="357.73" y1="297.80" x2="357.73" y2="300.00" stroke="#3a3a3a" stroke-width="1"/>
<line x1="371.66" y1="297.80" x2="371.66" y2="300.00" stroke="#3a3a3a" stroke-width="1"/>
<line x1="385.59" y1="297.80" x2="385.59" y2="300.00" stroke="#3a3a3a" stroke-width="1"/>
<line x1="399.52" y1="297.80" x2="399.52" y2="300.00" stroke="#3a3a3a" stroke-width="1"/>
<line x1="413.45" y1="297.80" x2="413.45" y2="300.00" stroke="#3a3a3a" stroke-width="1"/>
<line x1="427.38" y1="297.80" x2="427.38" y2="300.00" stroke="#3a3a3a" stroke-width="1"/>
<line x1="441.31" y1="297.80" x2="441.31" y2="300.00" stroke="#3a3a3a" stroke-width="1"/>
<line x1="455.24" y1="297.80" x2="455.24" y2="300.00" stroke="#3a3a3a" stroke-width="1"/>
<line x1="334.10" y1="297.80" x2="337.10" y2="297.80" stroke="#3a3a3a" stroke-width="1"/>
<line x1="342.20" y1="205.00" x2="356.00" y2="205.00" stroke="#555" stroke-width="1"/>
<text x="349.00" y="204.20" font-size="7" text-anchor="middle" font-weight="bold" fill="#222" stroke="#222" stroke-width="0.22">***</text>
<line x1="358.20" y1="210.40" x2="372.00" y2="210.40" stroke="#555" stroke-width="1"/>
<text x="365.20" y="209.60" font-size="7" text-anchor="middle" font-weight="bold" fill="#222" stroke="#222" stroke-width="0.22">*</text>
<circle cx="341.20" cy="297.30" r="1.95" fill="#7fb5f2"/>
<circle cx="343.00" cy="297.30" r="1.95" fill="#7fb5f2"/>
<circle cx="344.80" cy="297.30" r="1.95" fill="#7fb5f2"/>
<circle cx="346.50" cy="297.30" r="1.95" fill="#7fb5f2"/>
<line x1="357.73" y1="214.45" x2="357.73" y2="218.38" stroke="#808080" stroke-width="1.1"/>
<line x1="354.93" y1="214.45" x2="360.53" y2="214.45" stroke="#808080" stroke-width="1"/>
<line x1="357.73" y1="247.56" x2="357.73" y2="248.68" stroke="#808080" stroke-width="1.1"/>
<line x1="354.93" y1="248.68" x2="360.53" y2="248.68" stroke="#808080" stroke-width="1"/>
<rect x="353.03" y="218.38" width="9.40" height="29.18" fill="none" stroke="#4a4a4a" stroke-width="0.9"/>
<line x1="353.03" y1="223.99" x2="362.43" y2="223.99" stroke="#4a4a4a" stroke-width="0.9"/>
<circle cx="357.73" cy="214.45" r="1.95" fill="#7fb5f2"/>
<circle cx="353.23" cy="222.31" r="1.95" fill="#7fb5f2"/>
<circle cx="362.23" cy="222.31" r="1.95" fill="#7fb5f2"/>
<circle cx="353.23" cy="248.68" r="1.95" fill="#7fb5f2"/>
<circle cx="361.93" cy="247.00" r="1.95" fill="#7fb5f2"/>
<line x1="371.66" y1="247.00" x2="371.66" y2="250.37" stroke="#808080" stroke-width="1.1"/>
<line x1="368.86" y1="247.00" x2="374.46" y2="247.00" stroke="#808080" stroke-width="1"/>
<line x1="371.66" y1="256.54" x2="371.66" y2="257.10" stroke="#808080" stroke-width="1.1"/>
<line x1="368.86" y1="257.10" x2="374.46" y2="257.10" stroke="#808080" stroke-width="1"/>
<rect x="367.16" y="250.37" width="9.00" height="6.17" fill="none" stroke="#4a4a4a" stroke-width="0.9"/>
<line x1="367.16" y1="253.73" x2="376.16" y2="253.73" stroke="#4a4a4a" stroke-width="0.9"/>
<circle cx="371.66" cy="247.00" r="1.95" fill="#7fb5f2"/>
<circle cx="367.66" cy="256.54" r="1.95" fill="#7fb5f2"/>
<circle cx="375.66" cy="255.98" r="1.95" fill="#7fb5f2"/>
<circle cx="373.16" cy="253.73" r="1.95" fill="#7fb5f2"/>
<circle cx="382.09" cy="252.05" r="1.95" fill="#7fb5f2"/>
<circle cx="384.39" cy="251.21" r="1.95" fill="#7fb5f2"/>
<circle cx="386.79" cy="251.49" r="1.95" fill="#7fb5f2"/>
<circle cx="389.09" cy="252.33" r="1.95" fill="#7fb5f2"/>
<line x1="399.52" y1="228.48" x2="399.52" y2="238.02" stroke="#808080" stroke-width="1.1"/>
<line x1="396.72" y1="228.48" x2="402.32" y2="228.48" stroke="#808080" stroke-width="1"/>
<rect x="395.12" y="238.02" width="8.80" height="13.47" fill="none" stroke="#4a4a4a" stroke-width="0.9"/>
<line x1="395.12" y1="249.24" x2="403.92" y2="249.24" stroke="#4a4a4a" stroke-width="0.9"/>
<circle cx="399.52" cy="228.48" r="1.95" fill="#7fb5f2"/>
<circle cx="395.52" cy="252.05" r="1.95" fill="#7fb5f2"/>
<circle cx="403.52" cy="248.12" r="1.95" fill="#7fb5f2"/>
<circle cx="395.52" cy="247.56" r="1.95" fill="#7fb5f2"/>
<circle cx="409.95" cy="250.65" r="1.95" fill="#7fb5f2"/>
<circle cx="412.25" cy="250.09" r="1.95" fill="#7fb5f2"/>
<circle cx="414.65" cy="250.37" r="1.95" fill="#7fb5f2"/>
<circle cx="416.95" cy="250.93" r="1.95" fill="#7fb5f2"/>
<line x1="427.38" y1="243.07" x2="427.38" y2="244.19" stroke="#808080" stroke-width="1.1"/>
<line x1="424.58" y1="243.07" x2="430.18" y2="243.07" stroke="#808080" stroke-width="1"/>
<rect x="422.88" y="244.19" width="9.00" height="5.05" fill="none" stroke="#4a4a4a" stroke-width="0.9"/>
<line x1="422.88" y1="247.56" x2="431.88" y2="247.56" stroke="#4a4a4a" stroke-width="0.9"/>
<circle cx="430.38" cy="243.07" r="1.95" fill="#7fb5f2"/>
<circle cx="423.38" cy="245.32" r="1.95" fill="#7fb5f2"/>
<circle cx="431.38" cy="247.56" r="1.95" fill="#7fb5f2"/>
<circle cx="423.38" cy="249.24" r="1.95" fill="#7fb5f2"/>
<circle cx="437.81" cy="252.05" r="1.95" fill="#7fb5f2"/>
<circle cx="440.11" cy="251.49" r="1.95" fill="#7fb5f2"/>
<circle cx="442.51" cy="251.77" r="1.95" fill="#7fb5f2"/>
<circle cx="444.81" cy="252.61" r="1.95" fill="#7fb5f2"/>
<rect x="450.94" y="247.56" width="8.60" height="2.81" fill="none" stroke="#4a4a4a" stroke-width="0.9"/>
<line x1="450.94" y1="248.68" x2="459.54" y2="248.68" stroke="#4a4a4a" stroke-width="0.9"/>
<circle cx="451.24" cy="247.56" r="1.95" fill="#7fb5f2"/>
<circle cx="451.24" cy="250.37" r="1.95" fill="#7fb5f2"/>
<circle cx="455.24" cy="248.68" r="1.95" fill="#7fb5f2"/>
<circle cx="459.24" cy="248.40" r="1.95" fill="#7fb5f2"/>
<text x="346.20" y="307.10" font-size="7.0" text-anchor="end" font-weight="bold" fill="#222" transform="rotate(-45 346.20 307.10)" stroke="#222" stroke-width="0.22">ETP</text>
<text x="360.13" y="307.10" font-size="7.0" text-anchor="end" font-weight="bold" fill="#222" transform="rotate(-45 360.13 307.10)" stroke="#222" stroke-width="0.22">DN1</text>
<text x="374.06" y="307.10" font-size="7.0" text-anchor="end" font-weight="bold" fill="#222" transform="rotate(-45 374.06 307.10)" stroke="#222" stroke-width="0.22">DN2</text>
<text x="387.99" y="307.10" font-size="7.0" text-anchor="end" font-weight="bold" fill="#222" transform="rotate(-45 387.99 307.10)" stroke="#222" stroke-width="0.22">DN3</text>
<text x="401.92" y="307.10" font-size="7.0" text-anchor="end" font-weight="bold" fill="#222" transform="rotate(-45 401.92 307.10)" stroke="#222" stroke-width="0.22">DN4</text>
<text x="415.85" y="307.10" font-size="7.0" text-anchor="end" font-weight="bold" fill="#222" transform="rotate(-45 415.85 307.10)" stroke="#222" stroke-width="0.22">ISP</text>
<text x="429.78" y="307.10" font-size="7.0" text-anchor="end" font-weight="bold" fill="#222" transform="rotate(-45 429.78 307.10)" stroke="#222" stroke-width="0.22">DP</text>
<text x="443.71" y="307.10" font-size="7.0" text-anchor="end" font-weight="bold" fill="#222" transform="rotate(-45 443.71 307.10)" stroke="#222" stroke-width="0.22">SP4</text>
<text x="457.64" y="307.10" font-size="7.0" text-anchor="end" font-weight="bold" fill="#222" transform="rotate(-45 457.64 307.10)" stroke="#222" stroke-width="0.22">SP8</text>
<text x="3.20" y="364.60" font-size="9.8" text-anchor="start" font-weight="bold" fill="#111" stroke="#111" stroke-width="0.22">E</text>
<text x="127.80" y="364.70" font-size="8.55" text-anchor="middle" font-weight="bold" fill="#222" stroke="#222" stroke-width="0.22">Axin2-mTurquoise2 homozygote</text>
<text x="131.10" y="374.20" font-size="8.55" text-anchor="middle" font-weight="bold" fill="#222" stroke="#222" stroke-width="0.22">Bone marrow</text>
<text x="29.40" y="444.00" font-size="8.0" text-anchor="middle" font-weight="bold" fill="#222" transform="rotate(-90 29.40 444.00)" stroke="#222" stroke-width="0.22">mTurquoise2</text>
<text x="43.10" y="443.60" font-size="7.9" text-anchor="middle" font-weight="bold" fill="#222" transform="rotate(-90 43.10 443.60)" stroke="#222" stroke-width="0.22">Median fluorescent intensity (AU)</text>
<line x1="59.80" y1="392.60" x2="59.80" y2="488.20" stroke="#3a3a3a" stroke-width="1"/>
<text x="58.90" y="487.80" font-size="7.0" text-anchor="end" font-weight="bold" fill="#222" stroke="#222" stroke-width="0.22">0</text>
<text x="58.90" y="464.75" font-size="7.0" text-anchor="end" font-weight="bold" fill="#222" stroke="#222" stroke-width="0.22">100</text>
<text x="58.90" y="441.70" font-size="7.0" text-anchor="end" font-weight="bold" fill="#222" stroke="#222" stroke-width="0.22">200</text>
<text x="58.90" y="418.65" font-size="7.0" text-anchor="end" font-weight="bold" fill="#222" stroke="#222" stroke-width="0.22">300</text>
<text x="58.90" y="395.60" font-size="7.0" text-anchor="end" font-weight="bold" fill="#222" stroke="#222" stroke-width="0.22">400</text>
<line x1="60.80" y1="485.30" x2="115.00" y2="485.30" stroke="#444" stroke-width="0.9" stroke-dasharray="1 1.2"/>
<line x1="59.30" y1="487.70" x2="115.60" y2="487.70" stroke="#3a3a3a" stroke-width="1"/>
<line x1="70.50" y1="487.70" x2="70.50" y2="489.90" stroke="#3a3a3a" stroke-width="1"/>
<line x1="87.30" y1="487.70" x2="87.30" y2="489.90" stroke="#3a3a3a" stroke-width="1"/>
<line x1="104.40" y1="487.70" x2="104.40" y2="489.90" stroke="#3a3a3a" stroke-width="1"/>
<line x1="87.70" y1="431.82" x2="87.70" y2="422.14" stroke="#808080" stroke-width="1.1"/>
<line x1="85.20" y1="422.14" x2="90.20" y2="422.14" stroke="#808080" stroke-width="1"/>
<rect x="82.50" y="431.82" width="10.30" height="53.48" fill="none" stroke="#666" stroke-width="0.9"/>
<line x1="104.50" y1="413.38" x2="104.50" y2="400.71" stroke="#808080" stroke-width="1.1"/>
<line x1="102.00" y1="400.71" x2="107.00" y2="400.71" stroke="#808080" stroke-width="1"/>
<rect x="99.40" y="413.38" width="10.10" height="71.92" fill="none" stroke="#666" stroke-width="0.9"/>
<circle cx="67.30" cy="485.30" r="1.95" fill="#1b78be"/>
<circle cx="69.20" cy="485.30" r="1.95" fill="#1b78be"/>
<circle cx="71.00" cy="485.30" r="1.95" fill="#1b78be"/>
<circle cx="72.80" cy="485.30" r="1.95" fill="#1b78be"/>
<circle cx="74.70" cy="485.30" r="1.95" fill="#1b78be"/>
<circle cx="84.20" cy="485.30" r="1.95" fill="#1b78be"/>
<circle cx="85.90" cy="485.30" r="1.95" fill="#1b78be"/>
<circle cx="87.60" cy="485.30" r="1.95" fill="#1b78be"/>
<circle cx="89.40" cy="485.30" r="1.95" fill="#1b78be"/>
<circle cx="91.10" cy="485.30" r="1.95" fill="#1b78be"/>
<circle cx="100.90" cy="485.30" r="1.95" fill="#1b78be"/>
<circle cx="102.60" cy="485.30" r="1.95" fill="#1b78be"/>
<circle cx="104.30" cy="485.30" r="1.95" fill="#1b78be"/>
<circle cx="106.10" cy="485.30" r="1.95" fill="#1b78be"/>
<circle cx="107.80" cy="485.30" r="1.95" fill="#1b78be"/>
<circle cx="87.70" cy="422.14" r="1.95" fill="#1b78be"/>
<circle cx="87.70" cy="434.59" r="1.95" fill="#1b78be"/>
<circle cx="104.50" cy="400.71" r="1.95" fill="#1b78be"/>
<circle cx="104.50" cy="417.76" r="1.95" fill="#1b78be"/>
<text x="73.10" y="496.90" font-size="7.2" text-anchor="end" font-weight="bold" fill="#222" transform="rotate(-45 73.10 496.90)" stroke="#222" stroke-width="0.22">LT</text>
<text x="89.90" y="496.90" font-size="7.2" text-anchor="end" font-weight="bold" fill="#222" transform="rotate(-45 89.90 496.90)" stroke="#222" stroke-width="0.22">ST</text>
<text x="107.00" y="496.90" font-size="7.2" text-anchor="end" font-weight="bold" fill="#222" transform="rotate(-45 107.00 496.90)" stroke="#222" stroke-width="0.22">MPP</text>
<line x1="145.10" y1="395.00" x2="145.10" y2="479.80" stroke="#3a3a3a" stroke-width="1"/>
<text x="140.70" y="481.70" font-size="6.6" text-anchor="end" font-weight="bold" fill="#222" stroke="#222" stroke-width="0.22">200</text>
<line x1="142.10" y1="458.35" x2="145.10" y2="458.35" stroke="#3a3a3a" stroke-width="1"/>
<text x="140.70" y="460.75" font-size="6.6" text-anchor="end" font-weight="bold" fill="#222" stroke="#222" stroke-width="0.22">300</text>
<line x1="142.10" y1="437.40" x2="145.10" y2="437.40" stroke="#3a3a3a" stroke-width="1"/>
<text x="140.70" y="439.80" font-size="6.6" text-anchor="end" font-weight="bold" fill="#222" stroke="#222" stroke-width="0.22">400</text>
<line x1="142.10" y1="416.45" x2="145.10" y2="416.45" stroke="#3a3a3a" stroke-width="1"/>
<text x="140.70" y="418.85" font-size="6.6" text-anchor="end" font-weight="bold" fill="#222" stroke="#222" stroke-width="0.22">500</text>
<line x1="142.10" y1="395.50" x2="145.10" y2="395.50" stroke="#3a3a3a" stroke-width="1"/>
<text x="140.70" y="397.90" font-size="6.6" text-anchor="end" font-weight="bold" fill="#222" stroke="#222" stroke-width="0.22">600</text>
<line x1="145.10" y1="481.50" x2="145.10" y2="487.30" stroke="#3a3a3a" stroke-width="1"/>
<line x1="142.70" y1="479.30" x2="147.50" y2="479.30" stroke="#3a3a3a" stroke-width="1"/>
<line x1="144.60" y1="487.30" x2="199.20" y2="487.30" stroke="#3a3a3a" stroke-width="1" stroke-dasharray="1 0.8"/>
<line x1="155.80" y1="487.30" x2="155.80" y2="489.50" stroke="#3a3a3a" stroke-width="1"/>
<line x1="171.80" y1="487.30" x2="171.80" y2="489.50" stroke="#3a3a3a" stroke-width="1"/>
<line x1="187.80" y1="487.30" x2="187.80" y2="489.50" stroke="#3a3a3a" stroke-width="1"/>
<line x1="144.60" y1="487.30" x2="147.60" y2="487.30" stroke="#3a3a3a" stroke-width="1"/>
<path d="M150.5 479.3 V462.1 H160.9 V479.3 M150.5 481.5 V485.4 H160.9 V481.5" fill="none" stroke="#666" stroke-width="0.9"/>
<line x1="150.50" y1="468.41" x2="160.90" y2="468.41" stroke="#666" stroke-width="0.9"/>
<circle cx="155.80" cy="460.03" r="1.95" fill="#1b78be"/>
<circle cx="155.80" cy="466.73" r="1.95" fill="#1b78be"/>
<circle cx="155.80" cy="469.87" r="1.95" fill="#1b78be"/>
<circle cx="155.80" cy="487.60" r="1.95" fill="#1b78be"/>
<circle cx="167.80" cy="477.20" r="1.95" fill="#1b78be"/>
<circle cx="170.30" cy="476.37" r="1.95" fill="#1b78be"/>
<circle cx="172.80" cy="476.79" r="1.95" fill="#1b78be"/>
<circle cx="175.30" cy="477.00" r="1.95" fill="#1b78be"/>
<circle cx="176.80" cy="476.58" r="1.95" fill="#1b78be"/>
<line x1="187.80" y1="419.17" x2="187.80" y2="401.79" stroke="#808080" stroke-width="1.1"/>
<line x1="185.30" y1="401.79" x2="190.30" y2="401.79" stroke="#808080" stroke-width="1"/>
<rect x="182.50" y="419.17" width="10.60" height="59.29" fill="none" stroke="#666" stroke-width="0.9"/>
<line x1="182.50" y1="472.18" x2="193.10" y2="472.18" stroke="#666" stroke-width="0.9"/>
<circle cx="187.80" cy="401.79" r="1.95" fill="#1b78be"/>
<circle cx="187.80" cy="469.24" r="1.95" fill="#1b78be"/>
<circle cx="187.80" cy="474.06" r="1.95" fill="#1b78be"/>
<circle cx="187.80" cy="481.40" r="1.95" fill="#1b78be"/>
<text x="158.20" y="496.50" font-size="7.2" text-anchor="end" font-weight="bold" fill="#222" transform="rotate(-45 158.20 496.50)" stroke="#222" stroke-width="0.22">LSK</text>
<text x="174.20" y="496.50" font-size="7.2" text-anchor="end" font-weight="bold" fill="#222" transform="rotate(-45 174.20 496.50)" stroke="#222" stroke-width="0.22">MP</text>
<text x="190.20" y="496.50" font-size="7.2" text-anchor="end" font-weight="bold" fill="#222" transform="rotate(-45 190.20 496.50)" stroke="#222" stroke-width="0.22">CLP</text>
<text x="271.90" y="364.60" font-size="9.8" text-anchor="start" font-weight="bold" fill="#111" stroke="#111" stroke-width="0.22">F</text>
<text x="410.60" y="364.60" font-size="8.55" text-anchor="middle" font-weight="bold" fill="#222" stroke="#222" stroke-width="0.22">Axin2-mTurquoise2 homozygote</text>
<text x="412.50" y="374.40" font-size="8.55" text-anchor="middle" font-weight="bold" fill="#222" stroke="#222" stroke-width="0.22">Thymus</text>
<text x="299.40" y="444.70" font-size="8.0" text-anchor="middle" font-weight="bold" fill="#222" transform="rotate(-90 299.40 444.70)" stroke="#222" stroke-width="0.22">mTurquoise2</text>
<text x="313.10" y="440.80" font-size="7.9" text-anchor="middle" font-weight="bold" fill="#222" transform="rotate(-90 313.10 440.80)" stroke="#222" stroke-width="0.22">Median fluorescent intensity (AU)</text>
<line x1="335.20" y1="397.00" x2="335.20" y2="475.70" stroke="#3a3a3a" stroke-width="1"/>
<text x="330.00" y="477.50" font-size="6.3" text-anchor="end" font-weight="bold" fill="#222" stroke="#222" stroke-width="0.22">100</text>
<line x1="331.10" y1="449.30" x2="335.20" y2="449.30" stroke="#3a3a3a" stroke-width="1"/>
<text x="330.00" y="451.60" font-size="6.3" text-anchor="end" font-weight="bold" fill="#222" stroke="#222" stroke-width="0.22">200</text>
<line x1="331.10" y1="423.40" x2="335.20" y2="423.40" stroke="#3a3a3a" stroke-width="1"/>
<text x="330.00" y="425.70" font-size="6.3" text-anchor="end" font-weight="bold" fill="#222" stroke="#222" stroke-width="0.22">300</text>
<line x1="331.10" y1="397.50" x2="335.20" y2="397.50" stroke="#3a3a3a" stroke-width="1"/>
<text x="330.00" y="399.80" font-size="6.3" text-anchor="end" font-weight="bold" fill="#222" stroke="#222" stroke-width="0.22">400</text>
<line x1="335.20" y1="481.50" x2="335.20" y2="487.30" stroke="#3a3a3a" stroke-width="1"/>
<line x1="332.90" y1="475.20" x2="337.60" y2="475.20" stroke="#3a3a3a" stroke-width="1"/>
<line x1="334.70" y1="487.30" x2="454.70" y2="487.30" stroke="#3a3a3a" stroke-width="1" stroke-dasharray="1 0.8"/>
<line x1="343.40" y1="487.30" x2="343.40" y2="489.50" stroke="#3a3a3a" stroke-width="1"/>
<line x1="356.15" y1="487.30" x2="356.15" y2="489.50" stroke="#3a3a3a" stroke-width="1"/>
<line x1="368.90" y1="487.30" x2="368.90" y2="489.50" stroke="#3a3a3a" stroke-width="1"/>
<line x1="381.65" y1="487.30" x2="381.65" y2="489.50" stroke="#3a3a3a" stroke-width="1"/>
<line x1="394.40" y1="487.30" x2="394.40" y2="489.50" stroke="#3a3a3a" stroke-width="1"/>
<line x1="407.15" y1="487.30" x2="407.15" y2="489.50" stroke="#3a3a3a" stroke-width="1"/>
<line x1="419.90" y1="487.30" x2="419.90" y2="489.50" stroke="#3a3a3a" stroke-width="1"/>
<line x1="432.65" y1="487.30" x2="432.65" y2="489.50" stroke="#3a3a3a" stroke-width="1"/>
<line x1="445.40" y1="487.30" x2="445.40" y2="489.50" stroke="#3a3a3a" stroke-width="1"/>
<line x1="334.70" y1="487.30" x2="337.70" y2="487.30" stroke="#3a3a3a" stroke-width="1"/>
<line x1="356.10" y1="415.00" x2="369.90" y2="415.00" stroke="#555" stroke-width="1"/>
<text x="363.00" y="414.30" font-size="7" text-anchor="middle" font-weight="bold" fill="#222" stroke="#222" stroke-width="0.22">*</text>
<line x1="343.40" y1="405.27" x2="343.40" y2="406.56" stroke="#808080" stroke-width="1.1"/>
<line x1="340.60" y1="405.27" x2="346.20" y2="405.27" stroke="#808080" stroke-width="1"/>
<line x1="343.40" y1="452.93" x2="343.40" y2="457.59" stroke="#808080" stroke-width="1.1"/>
<line x1="340.60" y1="457.59" x2="346.20" y2="457.59" stroke="#808080" stroke-width="1"/>
<rect x="339.25" y="406.56" width="8.30" height="46.36" fill="none" stroke="#4a4a4a" stroke-width="0.9"/>
<line x1="339.25" y1="424.95" x2="347.55" y2="424.95" stroke="#4a4a4a" stroke-width="0.9"/>
<circle cx="343.40" cy="405.27" r="1.95" fill="#1b78be"/>
<circle cx="343.40" cy="408.38" r="1.95" fill="#1b78be"/>
<circle cx="343.40" cy="442.05" r="1.95" fill="#1b78be"/>
<circle cx="343.40" cy="457.59" r="1.95" fill="#1b78be"/>
<line x1="356.15" y1="428.58" x2="356.15" y2="432.46" stroke="#808080" stroke-width="1.1"/>
<line x1="353.35" y1="428.58" x2="358.95" y2="428.58" stroke="#808080" stroke-width="1"/>
<rect x="352.20" y="432.46" width="7.90" height="19.94" fill="none" stroke="#4a4a4a" stroke-width="0.9"/>
<line x1="352.20" y1="446.19" x2="360.10" y2="446.19" stroke="#4a4a4a" stroke-width="0.9"/>
<circle cx="356.15" cy="428.58" r="1.95" fill="#1b78be"/>
<circle cx="356.15" cy="442.05" r="1.95" fill="#1b78be"/>
<circle cx="352.15" cy="451.89" r="1.95" fill="#1b78be"/>
<circle cx="360.15" cy="450.59" r="1.95" fill="#1b78be"/>
<circle cx="366.40" cy="457.59" r="1.95" fill="#1b78be"/>
<circle cx="368.90" cy="456.03" r="1.95" fill="#1b78be"/>
<circle cx="371.40" cy="457.59" r="1.95" fill="#1b78be"/>
<circle cx="368.90" cy="458.11" r="1.95" fill="#1b78be"/>
<circle cx="379.15" cy="457.59" r="1.95" fill="#1b78be"/>
<circle cx="381.65" cy="456.81" r="1.95" fill="#1b78be"/>
<circle cx="384.15" cy="457.07" r="1.95" fill="#1b78be"/>
<circle cx="391.40" cy="453.44" r="1.95" fill="#1b78be"/>
<circle cx="394.40" cy="451.37" r="1.95" fill="#1b78be"/>
<circle cx="397.40" cy="453.19" r="1.95" fill="#1b78be"/>
<circle cx="394.40" cy="453.96" r="1.95" fill="#1b78be"/>
<circle cx="404.15" cy="453.96" r="1.95" fill="#1b78be"/>
<circle cx="407.15" cy="453.44" r="1.95" fill="#1b78be"/>
<circle cx="410.15" cy="453.70" r="1.95" fill="#1b78be"/>
<circle cx="416.90" cy="448.52" r="1.95" fill="#1b78be"/>
<circle cx="422.90" cy="448.78" r="1.95" fill="#1b78be"/>
<circle cx="419.90" cy="450.85" r="1.95" fill="#1b78be"/>
<circle cx="416.90" cy="450.34" r="1.95" fill="#1b78be"/>
<circle cx="429.65" cy="456.03" r="1.95" fill="#1b78be"/>
<circle cx="431.65" cy="455.77" r="1.95" fill="#1b78be"/>
<circle cx="433.65" cy="455.77" r="1.95" fill="#1b78be"/>
<circle cx="435.65" cy="455.77" r="1.95" fill="#1b78be"/>
<circle cx="442.40" cy="451.63" r="1.95" fill="#1b78be"/>
<circle cx="445.40" cy="452.41" r="1.95" fill="#1b78be"/>
<circle cx="448.40" cy="452.67" r="1.95" fill="#1b78be"/>
<circle cx="442.40" cy="452.93" r="1.95" fill="#1b78be"/>
<rect x="390.60" y="451.37" width="7.60" height="2.85" fill="none" stroke="#4a4a4a" stroke-width="0.9"/>
<line x1="390.60" y1="452.93" x2="398.20" y2="452.93" stroke="#4a4a4a" stroke-width="0.9"/>
<rect x="416.10" y="448.52" width="7.60" height="2.59" fill="none" stroke="#4a4a4a" stroke-width="0.9"/>
<line x1="416.10" y1="450.08" x2="423.70" y2="450.08" stroke="#4a4a4a" stroke-width="0.9"/>
<rect x="441.70" y="451.63" width="7.40" height="1.55" fill="none" stroke="#4a4a4a" stroke-width="0.9"/>
<line x1="441.70" y1="452.41" x2="449.10" y2="452.41" stroke="#4a4a4a" stroke-width="0.9"/>
<text x="345.60" y="495.60" font-size="6.8" text-anchor="end" font-weight="bold" fill="#222" transform="rotate(-45 345.60 495.60)" stroke="#222" stroke-width="0.22">ETP</text>
<text x="358.35" y="495.60" font-size="6.8" text-anchor="end" font-weight="bold" fill="#222" transform="rotate(-45 358.35 495.60)" stroke="#222" stroke-width="0.22">DN1</text>
<text x="371.10" y="495.60" font-size="6.8" text-anchor="end" font-weight="bold" fill="#222" transform="rotate(-45 371.10 495.60)" stroke="#222" stroke-width="0.22">DN2</text>
<text x="383.85" y="495.60" font-size="6.8" text-anchor="end" font-weight="bold" fill="#222" transform="rotate(-45 383.85 495.60)" stroke="#222" stroke-width="0.22">DN3</text>
<text x="396.60" y="495.60" font-size="6.8" text-anchor="end" font-weight="bold" fill="#222" transform="rotate(-45 396.60 495.60)" stroke="#222" stroke-width="0.22">DN4</text>
<text x="409.35" y="495.60" font-size="6.8" text-anchor="end" font-weight="bold" fill="#222" transform="rotate(-45 409.35 495.60)" stroke="#222" stroke-width="0.22">ISP</text>
<text x="422.10" y="495.60" font-size="6.8" text-anchor="end" font-weight="bold" fill="#222" transform="rotate(-45 422.10 495.60)" stroke="#222" stroke-width="0.22">DP</text>
<text x="434.85" y="495.60" font-size="6.8" text-anchor="end" font-weight="bold" fill="#222" transform="rotate(-45 434.85 495.60)" stroke="#222" stroke-width="0.22">SP4</text>
<text x="447.60" y="495.60" font-size="6.8" text-anchor="end" font-weight="bold" fill="#222" transform="rotate(-45 447.60 495.60)" stroke="#222" stroke-width="0.22">SP8</text>
</svg>
</body></html>
